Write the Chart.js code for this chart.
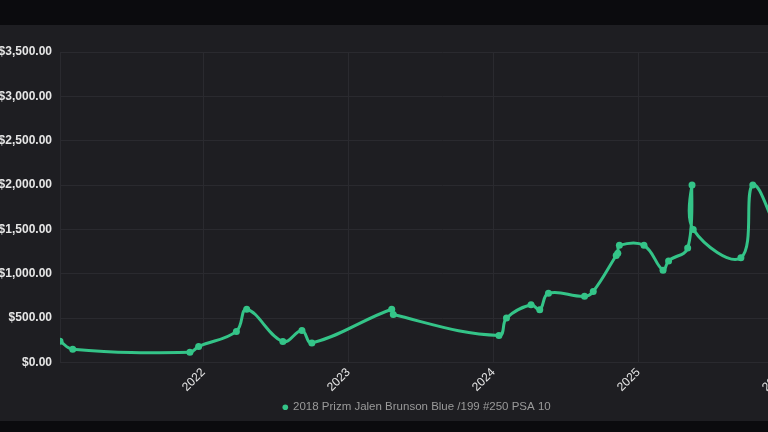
<!DOCTYPE html>
<html>
<head>
<meta charset="utf-8">
<script src="https://cdn.jsdelivr.net/npm/chart.js@4"></script>
<style>
  html, body { margin: 0; padding: 0; background: #0b0b0e; overflow: hidden; }
  #wrap { position: absolute; left: 0; top: 25px; width: 768px; height: 396px; background: #1e1e22; overflow: hidden; }
  #price-chart { position: absolute; left: 0; top: 0; }
</style>
</head>
<body>
<div id="wrap"><canvas id="price-chart" width="842" height="402"></canvas></div>
<script>
// sale history
const saleDates = [
  '2021-01-05', '2021-02-06', '2021-11-28', '2021-12-20', '2022-03-25',
  '2022-04-20', '2022-07-20', '2022-09-06', '2022-10-01', '2023-04-20',
  '2023-04-24', '2024-01-15', '2024-02-03', '2024-04-05', '2024-04-27',
  '2024-05-19', '2024-08-18', '2024-09-09', '2024-11-06', '2024-11-10',
  '2024-11-14', '2025-01-15', '2025-03-04', '2025-03-18', '2025-05-05',
  '2025-05-16', '2025-05-19', '2025-09-16', '2025-10-16', '2025-12-20'
];
const salePrices = [
  240, 150, 115, 180, 350,
  600, 235, 360, 220, 600,
  540, 305, 500, 650, 595,
  780, 745, 800, 1205, 1230,
  1320, 1320, 1040, 1145, 1290,
  2000, 1500, 1180, 2000, 1450
];
const yearTicks = [2022, 2023, 2024, 2025, 2026];
const cardName = '2018 Prizm Jalen Brunson Blue /199 #250 PSA 10';

function toYear(d) {
  const t = new Date(d + 'T00:00:00Z');
  const y = t.getUTCFullYear();
  const start = Date.UTC(y, 0, 1);
  const end = Date.UTC(y + 1, 0, 1);
  return y + (t - start) / (end - start);
}

const points = saleDates.map((d, i) => ({ x: toYear(d), y: salePrices[i] }));
const green = 'rgb(52, 196, 136)';

// nudge the legend a little to the right
const legendShift = {
  id: 'legendShift',
  afterLayout(chart) {
    chart.legend.left += 5;
    chart.legend.right += 5;
  }
};

const priceConfig = {
  type: 'line',
  data: {
    datasets: [{
      label: cardName,
      data: points,
      borderColor: green,
      backgroundColor: green,
      borderWidth: 3,
      pointRadius: 3.5,
      pointBorderWidth: 0,
      tension: 0.4
    }]
  },
  options: {
    responsive: false,
    animation: false,
    layout: { padding: { top: 27, right: 18, bottom: 4, left: 0 } },
    scales: {
      x: {
        type: 'linear',
        min: points[0].x,
        max: 2026.28,
        afterBuildTicks: (axis) => { axis.ticks = yearTicks.map(v => ({ value: v })); },
        ticks: {
          color: '#e6e6e6',
          font: { family: 'Liberation Sans', size: 12 },
          minRotation: 45,
          maxRotation: 45,
          padding: 3,
          callback: (v) => String(v)
        },
        grid: { color: '#2a2a2f', drawTicks: false },
        border: { color: '#2a2a2f' }
      },
      y: {
        min: 0,
        max: 3500,
        afterFit: (axis) => { axis.width = 60; },
        ticks: {
          stepSize: 500,
          color: '#e6e6e6',
          padding: 8,
          font: { family: 'Liberation Sans', size: 12, weight: 'bold' },
          callback: (v) => '$' + v.toLocaleString('en-US', { minimumFractionDigits: 2, maximumFractionDigits: 2 })
        },
        grid: { color: '#2a2a2f', drawTicks: false },
        border: { color: '#2a2a2f' }
      }
    },
    plugins: {
      legend: {
        position: 'bottom',
        labels: {
          usePointStyle: true,
          boxWidth: 4,
          boxHeight: 4,
          padding: 4,
          color: '#9a9a9a',
          font: { family: 'Liberation Sans', size: 11.5 }
        }
      },
      tooltip: { enabled: false }
    }
  },
  plugins: [legendShift]
};

var priceChart = new Chart(document.getElementById('price-chart'), priceConfig);
</script>
</body>
</html>
